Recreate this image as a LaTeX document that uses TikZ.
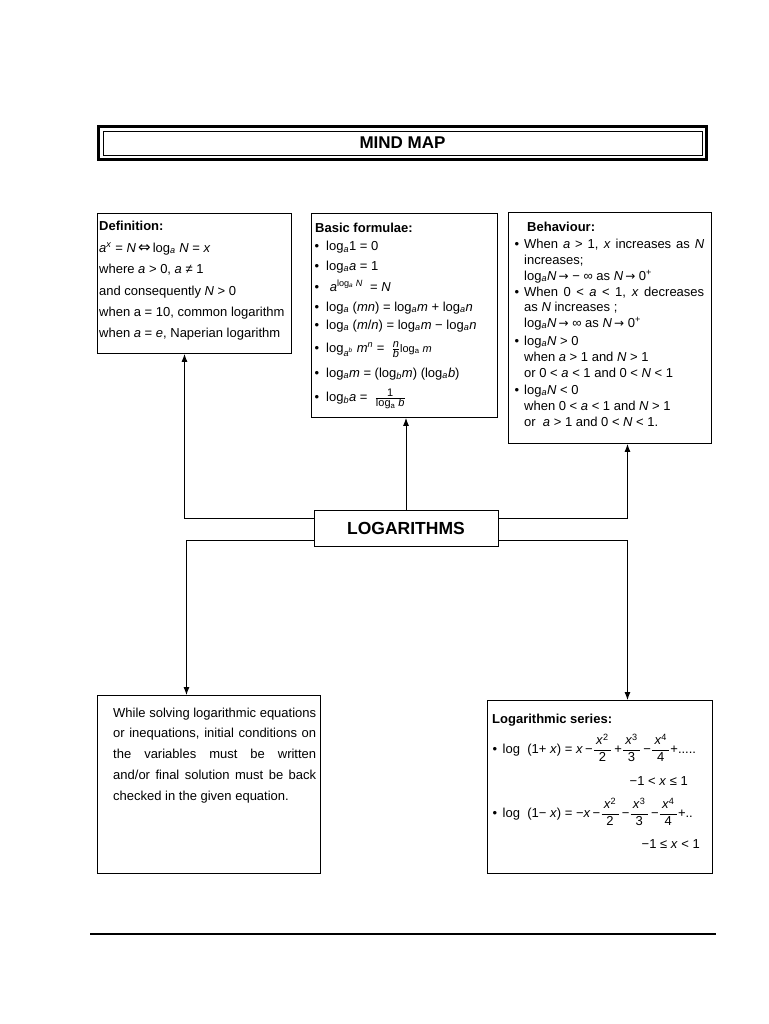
\documentclass[tikz,border=0pt]{standalone}
\usepackage{fontspec}
\setmainfont{Liberation Sans}
\newfontfamily\djv{DejaVu Sans}
\usetikzlibrary{arrows.meta,calc}
\newcommand\vi[1]{\textit{#1}}
\newcommand\lgs[1]{log\textsubscript{\textit{#1}}}
\newcommand\ra{\,{\djv\fontsize{12}{12}\selectfont →}}
\newcommand\myfrac[2]{\ensuremath{{\hbox{#1}\over\hbox{#2}}}}
\newcommand\dfr[2]{\ensuremath{\displaystyle{\hbox to 17pt{\hss#1\hss}\over\hbox to 17pt{\hss#2\hss}}}}
\newcommand\bul[1]{\makebox[#1][l]{•}}
\begin{document}
\begin{tikzpicture}[x=1pt,y=-1pt,
  box/.style={draw,line width=0.95pt,inner sep=0pt,anchor=north west},
  ln/.style={anchor=base west,inner sep=0pt,font=\fontsize{13}{15}\selectfont},
  lnr/.style={anchor=base east,inner sep=0pt,font=\fontsize{13}{15}\selectfont},
  arr/.style={line width=0.85pt,-{Latex[length=8pt,width=6pt]}}]
\fill[white] (0,0) rectangle (768,1024);
\useasboundingbox (0,0) rectangle (768,1024);

% title
\node[draw,line width=0.7pt,minimum width=599pt,minimum height=24pt,inner sep=0pt,
  font=\fontsize{17}{20}\selectfont\bfseries] (title) at (402.5,143) {MIND MAP};
\draw[line width=3.2pt] ([shift={(-4pt,4pt)}]title.north west) rectangle ([shift={(4pt,-4pt)}]title.south east);

% boxes
\node[box,minimum width=194pt,minimum height=140pt] (defbox) at (97,213) {};
\node[box,minimum width=186pt,minimum height=204pt] (basbox) at (311,213) {};
\node[box,minimum width=203pt,minimum height=231pt] (behbox) at (508,212) {};
\node[box,minimum width=223pt,minimum height=178pt] (solbox) at (97,695) {};
\node[box,minimum width=225pt,minimum height=173pt] (serbox) at (487,700) {};
\node[draw,line width=0.95pt,minimum width=184pt,minimum height=36pt,inner sep=0pt,
  font=\fontsize{17.5}{20}\selectfont\bfseries] (logbox) at (406,528) {LOGARITHMS};

% definition
\node[ln] (def0) at (99,230) {\textbf{Definition:}};
\node[ln] (def1) at (99,252) {\vi{a}\textsuperscript{\vi{x}} = \vi{N}\,{\djv\fontsize{15}{15}\selectfont ⇔}\,log\textsubscript{\vi{a}} \vi{N} = \vi{x}};
\node[ln] (def2) at (99,273) {where \vi{a} > 0, \vi{a} ≠ 1};
\node[ln] (def3) at (99,295) {and consequently \vi{N} > 0};
\node[ln] (def4) at (99,316) {when a = 10, common logarithm};
\node[ln] (def5) at (99,337) {when \vi{a} = \vi{e}, Naperian logarithm};

% basic formulae
\node[ln] (bas0) at (315,233) {\textbf{Basic formulae:}};
\node[ln] (bas1) at (314.5,251) {\bul{11.5pt}\lgs{a}1 = 0};
\node[ln] (bas2) at (314.5,270) {\bul{11.5pt}\lgs{a}\vi{a} = 1};
\node[ln] (bas3) at (314.5,291) {\bul{11.5pt}\ \vi{a}\textsuperscript{\lgs{a} \vi{N}}\ \ = \vi{N}};
\node[ln] (bas4) at (314.5,311) {\bul{11.5pt}\lgs{a} (\vi{mn}) = \lgs{a}\vi{m} + \lgs{a}\vi{n}};
\node[ln] (bas5) at (314.5,329) {\bul{11.5pt}\lgs{a} (\vi{m}/\vi{n}) = \lgs{a}\vi{m} − \lgs{a}\vi{n}};
\node[ln] (bas6) at (314.5,352) {\bul{11.5pt}log\textsubscript{\vi{a}\textsuperscript{\vi{b}}} \vi{m}\textsuperscript{\vi{n}} = \ \myfrac{\fontsize{11}{11}\selectfont\vi{n}}{\fontsize{11}{11}\selectfont\vi{b}}{\fontsize{11}{12}\selectfont log\textsubscript{a} \vi{m}}};
\node[ln] (bas7) at (314.5,377) {\bul{11.5pt}\lgs{a}\vi{m} = (\lgs{b}\vi{m}) (\lgs{a}\vi{b})};
\node[ln] (bas8) at (314.5,401) {\bul{11.5pt}\lgs{b}\vi{a} = \ \myfrac{\fontsize{11}{11}\selectfont 1}{\fontsize{11}{11}\selectfont log\textsubscript{a} \vi{b}}};

% behaviour
\node[ln] (beh0) at (527,232) {\textbf{Behaviour:}};
\node[ln] (beh1) at (514.5,248) {\bul{9.5pt}\makebox[180pt][s]{When \vi{a} > 1, \vi{x} increases as \vi{N}}};
\node[ln] (beh2) at (524,264) {increases;};
\node[ln] (beh3) at (524,280) {log\textsubscript{\vi{a}}\vi{N}\ra\ − ∞ as \vi{N}\ra\ 0\textsuperscript{+}};
\node[ln] (beh4) at (514.5,296) {\bul{9.5pt}\makebox[180pt][s]{When 0 < \vi{a} < 1, \vi{x} decreases}};
\node[ln] (beh5) at (524,311) {as \vi{N} increases ;};
\node[ln] (beh6) at (524,327) {log\textsubscript{\vi{a}}\vi{N}\ra\ ∞ as \vi{N}\ra\ 0\textsuperscript{+}};
\node[ln] (beh7) at (514.5,345) {\bul{9.5pt}log\textsubscript{\vi{a}}\vi{N} > 0};
\node[ln] (beh8) at (524,361) {when \vi{a} > 1 and \vi{N} > 1};
\node[ln] (beh9) at (524,377) {or 0 < \vi{a} < 1 and 0 < \vi{N} < 1};
\node[ln] (beh10) at (514.5,394) {\bul{9.5pt}log\textsubscript{\vi{a}}\vi{N} < 0};
\node[ln] (beh11) at (524,410) {when 0 < \vi{a} < 1 and \vi{N} > 1};
\node[ln] (beh12) at (524,426) {or \ \vi{a} > 1 and 0 < \vi{N} < 1.};

% solving
\node[ln] (sol1) at (113,717) {\makebox[203pt][s]{While solving logarithmic equations}};
\node[ln] (sol2) at (113,737) {\makebox[203pt][s]{or inequations, initial conditions on}};
\node[ln] (sol3) at (113,758) {\makebox[203pt][s]{the variables must be written}};
\node[ln] (sol4) at (113,779) {\makebox[203pt][s]{and/or final solution must be back}};
\node[ln] (sol5) at (113,800) {checked in the given equation.};

% series
\node[ln] (ser0) at (492,723) {\textbf{Logarithmic series:}};
\node[ln] (ser1) at (492.5,753) {\bul{10pt}log\ \ (1+ \vi{x}) = \vi{x}\,−\dfr{\vi{x}\textsuperscript{2}}{2}\,+\dfr{\vi{x}\textsuperscript{3}}{3}\,−\dfr{\vi{x}\textsuperscript{4}}{4}+.....};
\node[lnr] (ser2) at (688,785) {−1 < \vi{x} ≤ 1};
\node[ln] (ser3) at (492.5,817) {\bul{10pt}log\ \ (1− \vi{x}) = −\vi{x}\,−\dfr{\vi{x}\textsuperscript{2}}{2}\,−\dfr{\vi{x}\textsuperscript{3}}{3}\,−\dfr{\vi{x}\textsuperscript{4}}{4}+..};
\node[lnr] (ser4) at (700,848) {−1 ≤ \vi{x} < 1};

% connectors
\draw[arr] ([yshift=10pt]logbox.west) -| ([xshift=-10pt]defbox.south);
\draw[arr] (logbox.north) -- (logbox.north |- basbox.south);
\draw[arr] ([yshift=10pt]logbox.east) -| ([xshift=17.5pt]behbox.south);
\draw[arr] ([yshift=-12pt]logbox.west) -| ([xshift=-22.5pt]solbox.north);
\draw[arr] ([yshift=-12pt]logbox.east) -| ([xshift=27.5pt]serbox.north);

% footer rule
\coordinate (fl) at (90,934);
\coordinate (fr) at (716,934);
\draw[line width=2pt] (fl) -- (fr);
\end{tikzpicture}
\end{document}
